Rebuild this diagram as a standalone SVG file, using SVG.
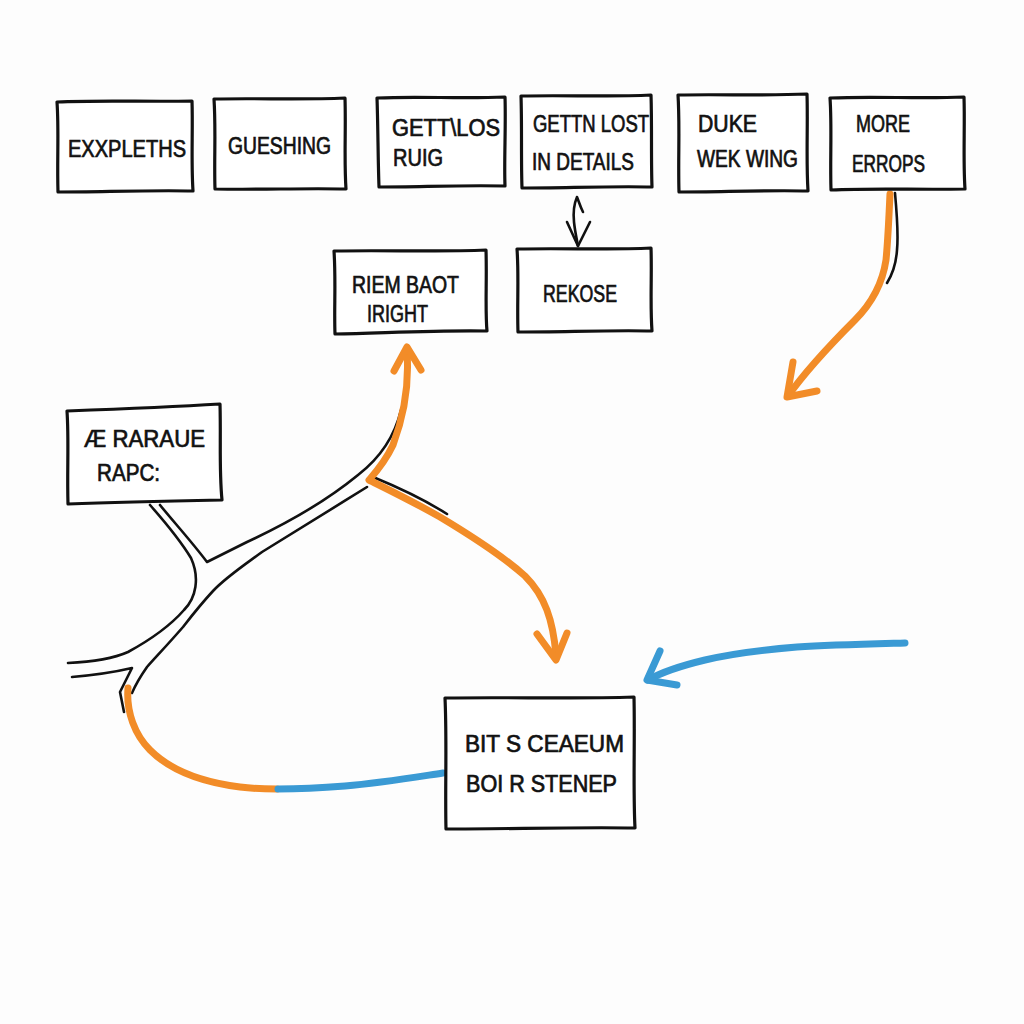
<svg xmlns="http://www.w3.org/2000/svg" width="1024" height="1024" viewBox="0 0 1024 1024">
<style>
.box{fill:#fff;stroke:#111;stroke-width:3.2;stroke-linejoin:round;stroke-linecap:round}
.t{font-family:"Liberation Sans","DejaVu Sans",sans-serif;font-size:23px;fill:#111;stroke:#111;stroke-width:0.7;font-weight:normal}
.ink{fill:none;stroke:#111;stroke-width:2.6;stroke-linecap:round;stroke-linejoin:round}
.or{fill:none;stroke:#f28c28;stroke-width:7;stroke-linecap:round;stroke-linejoin:round}
.bl{fill:none;stroke:#3a9ad4;stroke-width:7;stroke-linecap:round;stroke-linejoin:round}
</style>
<rect width="1024" height="1024" fill="#fdfdfd"/>

<g id="connectors">
  <!-- road-like double lines -->
  <path class="ink" d="M150,505 C165,522 180,540 191,558 C200,578 196,598 184,610 C170,626 150,640 128,652 C110,660 90,662 68,663"/>
  <path class="ink" d="M160,505 C172,520 192,542 207,562 L247,542 C290,522 330,498 358,475 C380,458 395,435 401,410"/>
  <path class="ink" d="M367,487 C330,510 290,535 262,552 C240,568 225,578 213,591 C200,605 190,618 183,627 C170,642 155,658 147,667 C140,677 135,686 132,693"/>
  <path class="ink" d="M72,677 C95,675 115,672 132,668 L120,692 L124,712"/>
  <path class="ink" d="M373,477 C400,488 425,500 447,514"/>
  <path class="ink" d="M895,193 C897,215 898,240 897,250 C896,265 892,275 887,283"/>
  <!-- small arrow between GETTN LOST and REKOSE -->
  <path class="ink" d="M583,212 C580,206 579,202 577,197 C574,204 573,212 574,222 C575,232 577,240 578,246"/>
  <path class="ink" d="M567,222 L578,246 L590,222"/>
  <!-- orange connectors -->
  <path class="or" d="M407,352 C409,380 405,413 393,445 C385,462 376,472 369,480 C385,488 410,500 440,517 C470,535 505,558 525,576 C545,596 553,620 556,655"/>
  <path class="or" d="M394,371 L407,347 L421,370"/>
  <path class="or" d="M537,634 L556,660 L567,633"/>
  <path class="or" d="M890,194 C889,215 888,240 886,260 C883,280 875,300 855,320 C830,345 805,372 788,396"/>
  <path class="or" d="M793,362 L787,397 L817,391"/>
  <path class="or" d="M128,688 C126,712 135,735 150,750 C170,770 200,782 240,787 C255,789 268,789 277,789"/>
  <path class="bl" d="M278,789 C300,789 320,788 345,786 C380,783 410,778 443,773"/>
  <path class="bl" d="M905,643 C870,644 830,645 797,647 C760,650 730,654 705,660 C680,666 662,672 648,680"/>
  <path class="bl" d="M660,651 L647,680 L677,685"/>
</g>

<g id="n1"><path class="box" d="M57,102 C100,100 150,102 192,101 C193,130 191,160 193,191 C150,190 100,192 58,192 C57,160 59,130 57,102 Z"/>
<text class="t" x="68" y="157" textLength="118" lengthAdjust="spacingAndGlyphs">EXXPLETHS</text></g>

<g id="n2"><path class="box" d="M214,99 C260,98 300,100 345,98 C346,130 344,160 346,189 C300,188 260,190 215,189 C214,160 216,130 214,99 Z"/>
<text class="t" x="228" y="154" textLength="103" lengthAdjust="spacingAndGlyphs">GUESHING</text></g>

<g id="n3"><path class="box" d="M377,98 C420,96 460,99 505,97 C506,125 504,160 505,186 C460,185 420,187 379,187 C378,160 378,125 377,98 Z"/>
<text class="t" x="392" y="136" textLength="108" lengthAdjust="spacingAndGlyphs">GETT\LOS</text>
<text class="t" x="393" y="166" textLength="50" lengthAdjust="spacingAndGlyphs">RUIG</text></g>

<g id="n4"><path class="box" d="M521,96 C565,95 610,97 651,95 C652,125 651,160 652,187 C610,186 565,188 522,188 C521,160 522,125 521,96 Z"/>
<text class="t" x="533" y="132" textLength="116" lengthAdjust="spacingAndGlyphs">GETTN LOST</text>
<text class="t" x="532" y="170" textLength="102" lengthAdjust="spacingAndGlyphs">IN DETAILS</text></g>

<g id="n5"><path class="box" d="M678,95 C720,94 765,96 807,94 C808,125 806,160 808,191 C765,190 720,192 679,192 C678,160 680,125 678,95 Z"/>
<text class="t" x="698" y="132" textLength="59" lengthAdjust="spacingAndGlyphs">DUKE</text>
<text class="t" x="697" y="167" textLength="101" lengthAdjust="spacingAndGlyphs">WEK WING</text></g>

<g id="n6"><path class="box" d="M830,98 C875,96 920,99 964,97 C965,125 963,160 965,189 C920,190 875,188 831,190 C830,160 832,125 830,98 Z"/>
<text class="t" x="856" y="132" textLength="54" lengthAdjust="spacingAndGlyphs">MORE</text>
<text class="t" x="852" y="172" textLength="73" lengthAdjust="spacingAndGlyphs">ERROPS</text></g>

<g id="n7"><path class="box" d="M334,251 C385,250 440,252 486,250 C487,280 485,310 487,331 C440,330 385,333 335,334 C334,310 336,280 334,251 Z"/>
<text class="t" x="352" y="293" textLength="107" lengthAdjust="spacingAndGlyphs">RIEM BAOT</text>
<text class="t" x="367" y="322" textLength="61" lengthAdjust="spacingAndGlyphs">IRIGHT</text></g>

<g id="n8"><path class="box" d="M517,249 C565,248 610,250 651,248 C652,275 650,305 652,331 C610,330 565,332 518,332 C517,305 519,275 517,249 Z"/>
<text class="t" x="543" y="302" textLength="74" lengthAdjust="spacingAndGlyphs">REKOSE</text></g>

<g id="n9"><path class="box" d="M67,411 C120,409 170,407 220,404 C221,440 219,470 222,500 C170,501 120,502 68,504 C67,470 69,440 67,411 Z"/>
<text class="t" x="84" y="447" textLength="121" lengthAdjust="spacingAndGlyphs">Æ RARAUE</text>
<text class="t" x="97" y="481" textLength="63" lengthAdjust="spacingAndGlyphs">RAPC:</text></g>

<g id="n10"><path class="box" d="M445,698 C510,697 575,699 634,697 C635,740 633,790 635,828 C575,827 510,829 446,829 C445,790 447,740 445,698 Z"/>
<text class="t" x="465" y="752" textLength="159" lengthAdjust="spacingAndGlyphs">BIT  S CEAEUM</text>
<text class="t" x="466" y="792" textLength="151" lengthAdjust="spacingAndGlyphs">BOI R STENEP</text></g>
</svg>
